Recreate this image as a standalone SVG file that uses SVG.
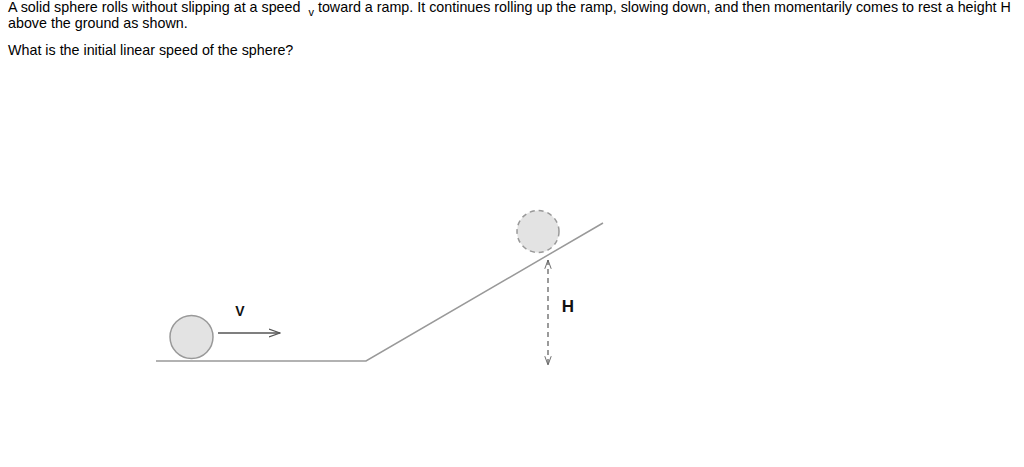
<svg xmlns="http://www.w3.org/2000/svg" width="1024" height="467" viewBox="0 0 1024 467">
<style>
.t{font-family:"Liberation Sans",Arial,sans-serif;font-size:14.3px;fill:#000}
.lbl{font-family:"Liberation Sans",Arial,sans-serif;font-weight:bold;fill:#111}
.ln{stroke:#999;stroke-width:1.5;fill:none}
</style>
<defs>
<marker id="chev" viewBox="0 0 12 10" refX="11" refY="5" markerWidth="12" markerHeight="10" markerUnits="userSpaceOnUse" orient="auto">
<path d="M0,1 L11,5 L0,9" fill="none" stroke="#555" stroke-width="1.2"/>
</marker>
<marker id="chev2" viewBox="0 0 12 10" refX="11" refY="5" markerWidth="10" markerHeight="8" markerUnits="userSpaceOnUse" orient="auto-start-reverse">
<path d="M0,1 L11,5 L0,9" fill="none" stroke="#666" stroke-width="1.2"/>
</marker>
</defs>
<rect width="1024" height="467" fill="#fff"/>
<g id="question">
<text class="t" x="8" y="12">A solid sphere rolls without slipping at a speed <tspan font-size="11" dy="4" dx="4">v</tspan><tspan dy="-4" dx="4">toward a ramp. It continues rolling up the ramp, slowing down, and then momentarily comes to rest a height H</tspan></text>
<text class="t" x="8" y="28">above the ground as shown.</text>
<text class="t" x="8" y="55">What is the initial linear speed of the sphere?</text>
</g>
<g id="connectors">
<polyline class="ln" points="156,361 366,361 603,223"/>
<line x1="218" y1="333" x2="280" y2="333" stroke="#555" stroke-width="1.5" marker-end="url(#chev)"/>
<line x1="548" y1="260" x2="548" y2="365" stroke="#666" stroke-width="1.3" stroke-dasharray="5,4" marker-start="url(#chev2)" marker-end="url(#chev2)"/>
</g>
<g id="sphere-start">
<circle cx="191.5" cy="337" r="21.5" fill="#e3e3e3" stroke="#999" stroke-width="1.5"/>
</g>
<g id="sphere-rest">
<circle cx="538" cy="231.5" r="21" fill="#e3e3e3" stroke="#999" stroke-width="1.5" stroke-dasharray="5,4"/>
</g>
<g id="label-v">
<text class="lbl" x="240" y="316" font-size="14" text-anchor="middle">V</text>
</g>
<g id="label-h">
<text class="lbl" x="568" y="312" font-size="17" text-anchor="middle">H</text>
</g>
</svg>
